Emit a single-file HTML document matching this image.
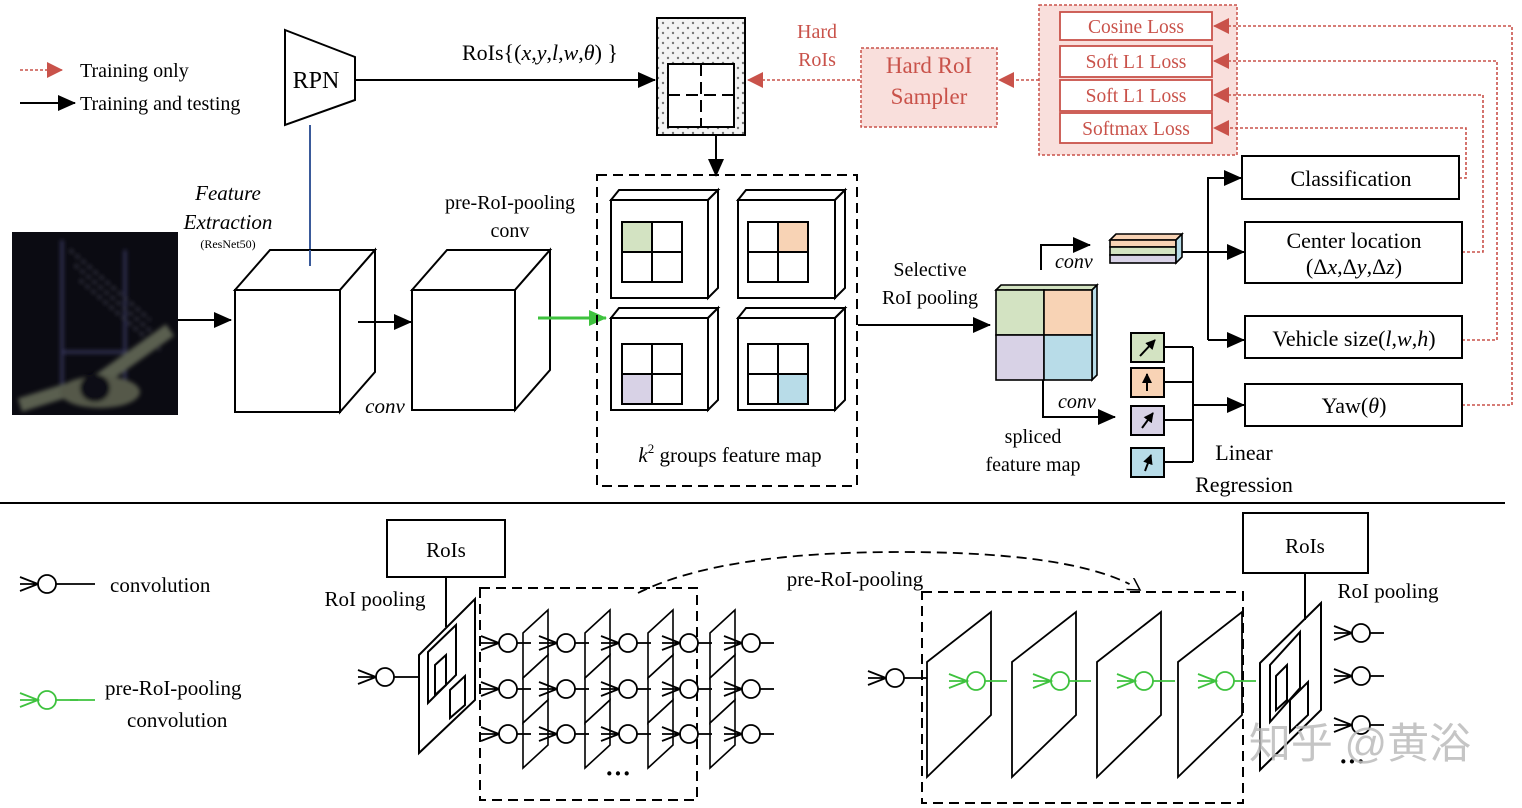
<!DOCTYPE html>
<html><head><meta charset="utf-8"><style>
html,body{margin:0;padding:0;background:#fff;}
svg{display:block;font-family:"Liberation Serif",serif;}
</style></head><body>
<svg width="1522" height="808" viewBox="0 0 1522 808" xmlns="http://www.w3.org/2000/svg">
<defs>
<marker id="ab" markerWidth="10" markerHeight="10" refX="9" refY="5" orient="auto" markerUnits="userSpaceOnUse"><path d="M0,0 L10,5 L0,10 z" fill="#000"/></marker>
<marker id="ab2" markerWidth="18" markerHeight="16" refX="17" refY="8" orient="auto" markerUnits="userSpaceOnUse"><path d="M0,0 L18,8 L0,16 z" fill="#000"/></marker>
<marker id="ag" markerWidth="18" markerHeight="16" refX="17" refY="8" orient="auto" markerUnits="userSpaceOnUse"><path d="M0,0 L18,8 L0,16 z" fill="#3ec23e"/></marker>
<marker id="ar" markerWidth="16" markerHeight="16" refX="15" refY="8" orient="auto" markerUnits="userSpaceOnUse"><path d="M0,0 L16,8 L0,16 z" fill="#c9524a"/></marker>
<marker id="ao" markerWidth="14" markerHeight="14" refX="12" refY="7" orient="auto" markerUnits="userSpaceOnUse"><path d="M0,0 L12,7 L0,14" fill="#fff" stroke="#000" stroke-width="1.5"/></marker>
<g id="cv" fill="none" stroke="#000" stroke-width="1.8"><path d="M-18,-7 L0,0 L-18,7 M-18,0 L0,0"/><circle cx="9" cy="0" r="9" fill="#fff"/><path d="M18,0 L32,0"/></g>
<g id="cg" fill="none" stroke="#3ec23e" stroke-width="1.8"><path d="M-18,-7 L0,0 L-18,7 M-18,0 L0,0"/><circle cx="9" cy="0" r="9"/><path d="M18,0 L40,0"/></g>
<g id="pp" fill="#fff" stroke="#000" stroke-width="1.6"><polygon points="0,23 25,0 25,45 0,68"/></g>
<g id="bp" fill="none" stroke="#000" stroke-width="1.8"><polygon points="0,62 64,12 64,115 0,177" fill="#fff"/></g>
<filter id="blur"><feGaussianBlur stdDeviation="2"/></filter>
</defs>

<!-- legend top -->
<line x1="20" y1="70" x2="62" y2="70" stroke="#c9524a" stroke-width="1.6" stroke-dasharray="3,2" marker-end="url(#ar)"/>
<text x="80" y="77" font-size="20">Training only</text>
<line x1="20" y1="103" x2="75" y2="103" stroke="#000" stroke-width="2" marker-end="url(#ab2)"/>
<text x="80" y="110" font-size="20">Training and testing</text>

<!-- RPN -->
<polygon points="285,30 355,57 355,100 285,125" fill="#fff" stroke="#000" stroke-width="2"/>
<text x="316" y="88" font-size="24" text-anchor="middle">RPN</text>
<line x1="310" y1="125" x2="310" y2="266" stroke="#3a5a9a" stroke-width="2"/>
<line x1="355" y1="80" x2="655" y2="80" stroke="#000" stroke-width="2" marker-end="url(#ab2)"/>
<text x="462" y="60" font-size="22">RoIs{(<tspan font-style="italic">x</tspan>,<tspan font-style="italic">y</tspan>,<tspan font-style="italic">l</tspan>,<tspan font-style="italic">w</tspan>,<tspan font-style="italic">θ</tspan>) }</text>

<defs><pattern id="dots" width="10" height="10" patternUnits="userSpaceOnUse"><rect width="10" height="10" fill="#f4f4f4"/><circle cx="3" cy="3" r="1.2" fill="#777"/><circle cx="8" cy="8" r="1.2" fill="#777"/></pattern></defs>
<rect x="657" y="18" width="88" height="117" fill="url(#dots)" stroke="#000" stroke-width="2"/>
<rect x="668" y="64" width="66" height="63" fill="#fff" stroke="#000" stroke-width="2"/>
<path d="M701,64 V127 M668,95 H734" stroke="#000" stroke-width="2" stroke-dasharray="12,6"/>
<line x1="716" y1="135" x2="716" y2="176" stroke="#000" stroke-width="2" marker-end="url(#ab2)"/>

<text x="817" y="38" font-size="20" fill="#c9524a" text-anchor="middle">Hard</text>
<text x="817" y="66" font-size="20" fill="#c9524a" text-anchor="middle">RoIs</text>
<line x1="860" y1="80" x2="748" y2="80" stroke="#c9524a" stroke-width="1.6" stroke-dasharray="3,2" marker-end="url(#ar)"/>
<rect x="861" y="48" width="136" height="79" fill="#f9dfdc" stroke="#c9524a" stroke-width="1.5" stroke-dasharray="3,2"/>
<text x="929" y="73" font-size="23" fill="#c9524a" text-anchor="middle">Hard RoI</text>
<text x="929" y="104" font-size="23" fill="#c9524a" text-anchor="middle">Sampler</text>
<line x1="1039" y1="80" x2="999" y2="80" stroke="#c9524a" stroke-width="1.6" stroke-dasharray="3,2" marker-end="url(#ar)"/>

<rect x="1039" y="5" width="198" height="150" fill="#f9dfdc" stroke="#c9524a" stroke-width="1.5" stroke-dasharray="3,2"/>
<g fill="#fff" stroke="#c9524a" stroke-width="1.8">
<rect x="1060" y="12" width="152" height="28"/>
<rect x="1060" y="46" width="152" height="31"/>
<rect x="1060" y="80" width="152" height="31"/>
<rect x="1060" y="113" width="152" height="30"/>
</g>
<g font-size="19.5" fill="#c9524a" text-anchor="middle">
<text x="1136" y="33">Cosine Loss</text>
<text x="1136" y="68">Soft L1 Loss</text>
<text x="1136" y="102">Soft L1 Loss</text>
<text x="1136" y="135">Softmax Loss</text>
</g>
<g fill="none" stroke="#c9524a" stroke-width="1.6" stroke-dasharray="3,2">
<path d="M1462,405 H1512 V26 H1214" marker-end="url(#ar)"/>
<path d="M1462,340 H1497 V61 H1214" marker-end="url(#ar)"/>
<path d="M1462,252 H1483 V95 H1214" marker-end="url(#ar)"/>
<path d="M1459,178 H1466 V128 H1214" marker-end="url(#ar)"/>
</g>

<g fill="#fff" stroke="#000" stroke-width="2">
<rect x="1242" y="156" width="217" height="43"/>
<rect x="1245" y="222" width="217" height="61"/>
<rect x="1245" y="316" width="217" height="42"/>
<rect x="1245" y="384" width="217" height="42"/>
</g>
<g font-size="22" text-anchor="middle">
<text x="1351" y="186">Classification</text>
<text x="1354" y="248">Center location</text>
<text x="1354" y="274">(Δ<tspan font-style="italic">x</tspan>,Δ<tspan font-style="italic">y</tspan>,Δ<tspan font-style="italic">z</tspan>)</text>
<text x="1354" y="346">Vehicle size(<tspan font-style="italic">l</tspan>,<tspan font-style="italic">w</tspan>,<tspan font-style="italic">h</tspan>)</text>
<text x="1354" y="413">Yaw(<tspan font-style="italic">θ</tspan>)</text>
</g>
<g fill="none" stroke="#000" stroke-width="2">
<path d="M1208,340 V178 H1241" marker-end="url(#ab2)"/>
<path d="M1180,252 H1244" marker-end="url(#ab2)"/>
<path d="M1208,340 H1244" marker-end="url(#ab2)"/>
<path d="M1041,270 V245 H1090" marker-end="url(#ab2)"/>
<path d="M1043,380 V417 H1115" marker-end="url(#ab2)"/>
<path d="M1164,347 H1193 M1164,382 H1193 M1164,420 H1193 M1164,462 H1193 M1193,347 V462"/>
<path d="M1193,405 H1244" marker-end="url(#ab2)"/>
</g>

<g stroke="#000" stroke-width="1.6">
<polygon points="1110,240 1116,234 1182,234 1176,240" fill="#f8d3b5"/>
<rect x="1110" y="240" width="66" height="7" fill="#f8d3b5"/>
<rect x="1110" y="247" width="66" height="8" fill="#d3e3c2"/>
<rect x="1110" y="255" width="66" height="8" fill="#d8d2e6"/>
<polygon points="1176,240 1182,234 1182,257 1176,263" fill="#b8dce8"/>
</g>
<text x="1055" y="268" font-size="20" font-style="italic">conv</text>

<text x="930" y="276" font-size="20" text-anchor="middle">Selective</text>
<text x="930" y="304" font-size="20" text-anchor="middle">RoI pooling</text>
<line x1="858" y1="325" x2="990" y2="325" stroke="#000" stroke-width="2" marker-end="url(#ab2)"/>

<g stroke="#000" stroke-width="1.6">
<polygon points="996,290 1001,285 1097,285 1092,290" fill="#d3e3c2"/>
<polygon points="1092,290 1097,285 1097,375 1092,380" fill="#b8dce8"/>
<rect x="996" y="290" width="48" height="45" fill="#d3e3c2"/>
<rect x="1044" y="290" width="48" height="45" fill="#f8d3b5"/>
<rect x="996" y="335" width="48" height="45" fill="#d8d2e6"/>
<rect x="1044" y="335" width="48" height="45" fill="#b8dce8"/>
</g>
<text x="1058" y="408" font-size="20" font-style="italic">conv</text>
<text x="1033" y="443" font-size="20" text-anchor="middle">spliced</text>
<text x="1033" y="471" font-size="20" text-anchor="middle">feature map</text>

<g stroke="#000" stroke-width="2">
<rect x="1131" y="333" width="33" height="29" fill="#d3e3c2"/>
<rect x="1131" y="368" width="33" height="29" fill="#f8d3b5"/>
<rect x="1131" y="406" width="33" height="29" fill="#d8d2e6"/>
<rect x="1131" y="448" width="33" height="29" fill="#b8dce8"/>
</g>
<g stroke="#000" stroke-width="2" fill="none" marker-end="url(#ab)">
<line x1="1140" y1="356" x2="1155" y2="340"/>
<line x1="1147" y1="391" x2="1147" y2="374"/>
<line x1="1142" y1="428" x2="1153" y2="413"/>
<line x1="1145" y1="471" x2="1151" y2="455"/>
</g>
<text x="1244" y="460" font-size="22" text-anchor="middle">Linear</text>
<text x="1244" y="492" font-size="22" text-anchor="middle">Regression</text>

<!-- input image -->
<rect x="12" y="232" width="166" height="183" fill="#0b0b12"/>
<g filter="url(#blur)" fill="none">
<path d="M62,240 V352 H125 M62,352 V390 M125,250 V400" stroke="#34365a" stroke-width="3"/>
<path d="M70,250 L150,320 M75,265 L155,335 M80,280 L160,350" stroke="#3a3a4a" stroke-width="3" stroke-dasharray="4,4"/>
<path d="M20,405 L100,380 L170,330" stroke="#5a5f50" stroke-width="14"/>
<ellipse cx="100" cy="392" rx="40" ry="16" fill="#55584a"/>
<ellipse cx="95" cy="388" rx="15" ry="14" fill="#0b0b12"/>
</g>
<line x1="178" y1="320" x2="231" y2="320" stroke="#000" stroke-width="2" marker-end="url(#ab2)"/>

<g fill="#fff" stroke="#000" stroke-width="2">
<polygon points="235,290 270,250 375,250 340,290"/>
<polygon points="340,290 375,250 375,372 340,412"/>
<rect x="235" y="290" width="105" height="122"/>
<polygon points="412,290 447,250 550,250 515,290"/>
<polygon points="515,290 550,250 550,370 515,410"/>
<rect x="412" y="290" width="103" height="120"/>
</g>
<line x1="310" y1="250" x2="310" y2="266" stroke="#3a5a9a" stroke-width="2"/>
<text x="228" y="200" font-size="21" font-style="italic" text-anchor="middle">Feature</text>
<text x="228" y="229" font-size="21" font-style="italic" text-anchor="middle">Extraction</text>
<text x="228" y="248" font-size="12" text-anchor="middle">(ResNet50)</text>
<line x1="358" y1="322" x2="411" y2="322" stroke="#000" stroke-width="2" marker-end="url(#ab2)"/>
<text x="385" y="413" font-size="21" font-style="italic" text-anchor="middle">conv</text>
<text x="510" y="209" font-size="20" text-anchor="middle">pre-RoI-pooling</text>
<text x="510" y="237" font-size="20" text-anchor="middle">conv</text>
<line x1="538" y1="318" x2="606" y2="318" stroke="#3ec23e" stroke-width="3" marker-end="url(#ag)"/>

<rect x="597" y="175" width="260" height="311" fill="none" stroke="#000" stroke-width="2" stroke-dasharray="10,6"/>
<g fill="#fff" stroke="#000" stroke-width="2">
<g><polygon points="611,200 619,190 718,190 708,200"/><polygon points="708,200 718,190 718,288 708,298"/><rect x="611" y="200" width="97" height="98"/></g>
<g><polygon points="738,200 746,190 845,190 835,200"/><polygon points="835,200 845,190 845,288 835,298"/><rect x="738" y="200" width="97" height="98"/></g>
<g><polygon points="611,318 619,308 718,308 708,318"/><polygon points="708,318 718,308 718,400 708,410"/><rect x="611" y="318" width="97" height="92"/></g>
<g><polygon points="738,318 746,308 845,308 835,318"/><polygon points="835,318 845,308 845,400 835,410"/><rect x="738" y="318" width="97" height="92"/></g>
</g>
<rect x="622" y="222" width="30" height="30" fill="#d3e3c2"/>
<rect x="778" y="222" width="30" height="30" fill="#f8d3b5"/>
<rect x="622" y="374" width="30" height="30" fill="#d8d2e6"/>
<rect x="778" y="374" width="30" height="30" fill="#b8dce8"/>
<g fill="none" stroke="#000" stroke-width="2">
<rect x="622" y="222" width="60" height="60"/><path d="M652,222 V282 M622,252 H682"/>
<rect x="748" y="222" width="60" height="60"/><path d="M778,222 V282 M748,252 H808"/>
<rect x="622" y="344" width="60" height="60"/><path d="M652,344 V404 M622,374 H682"/>
<rect x="748" y="344" width="60" height="60"/><path d="M778,344 V404 M748,374 H808"/>
</g>
<text x="730" y="462" font-size="21" text-anchor="middle"><tspan font-style="italic">k</tspan><tspan font-size="13" dy="-9">2</tspan><tspan dy="9"> groups feature map</tspan></text>

<line x1="0" y1="503" x2="1505" y2="503" stroke="#000" stroke-width="2"/>

<use href="#cv" x="38" y="584"/>
<line x1="70" y1="584" x2="95" y2="584" stroke="#000" stroke-width="1.8"/>
<text x="110" y="592" font-size="21">convolution</text>
<use href="#cg" x="38" y="700"/>
<line x1="70" y1="700" x2="95" y2="700" stroke="#3ec23e" stroke-width="1.8"/>
<text x="105" y="695" font-size="21">pre-RoI-pooling</text>
<text x="127" y="727" font-size="21">convolution</text>

<rect x="387" y="520" width="118" height="57" fill="#fff" stroke="#000" stroke-width="2"/>
<text x="446" y="557" font-size="21" text-anchor="middle">RoIs</text>
<text x="375" y="606" font-size="21" text-anchor="middle">RoI pooling</text>
<use href="#cv" x="376" y="677"/>
<line x1="408" y1="677" x2="420" y2="677" stroke="#000" stroke-width="1.8"/>
<polygon points="419,655 475,599 475,700 419,753" fill="#fff" stroke="#000" stroke-width="2"/>
<line x1="446" y1="577" x2="446" y2="627" stroke="#000" stroke-width="2"/>
<g fill="none" stroke="#000" stroke-width="2">
<polygon points="428,652 456,625 456,675 428,703"/>
<polygon points="435,665 446,655 446,685 435,695"/>
<polygon points="450,690 465,676 465,705 450,718"/>
</g>
<rect x="480" y="588" width="217" height="212" fill="none" stroke="#000" stroke-width="2" stroke-dasharray="10,6"/>
<g>
<use href="#pp" x="523" y="610"/><use href="#pp" x="523" y="655"/><use href="#pp" x="523" y="700"/>
<use href="#pp" x="585" y="610"/><use href="#pp" x="585" y="655"/><use href="#pp" x="585" y="700"/>
<use href="#pp" x="648" y="610"/><use href="#pp" x="648" y="655"/><use href="#pp" x="648" y="700"/>
<use href="#pp" x="710" y="610"/><use href="#pp" x="710" y="655"/><use href="#pp" x="710" y="700"/>
</g>
<g>
<use href="#cv" x="499" y="643"/><use href="#cv" x="557" y="643"/><use href="#cv" x="619" y="643"/><use href="#cv" x="680" y="643"/><use href="#cv" x="742" y="643"/>
<use href="#cv" x="499" y="689"/><use href="#cv" x="557" y="689"/><use href="#cv" x="619" y="689"/><use href="#cv" x="680" y="689"/><use href="#cv" x="742" y="689"/>
<use href="#cv" x="499" y="734"/><use href="#cv" x="557" y="734"/><use href="#cv" x="619" y="734"/><use href="#cv" x="680" y="734"/><use href="#cv" x="742" y="734"/>
</g>
<text x="618" y="782" font-size="26" font-weight="bold" text-anchor="middle">···</text>

<path d="M638,593 Q720,552 900,552 Q1080,552 1140,590" fill="none" stroke="#000" stroke-width="1.8" stroke-dasharray="10,6" marker-end="url(#ao)"/>
<text x="855" y="586" font-size="21" text-anchor="middle">pre-RoI-pooling</text>

<rect x="922" y="592" width="321" height="211" fill="none" stroke="#000" stroke-width="2" stroke-dasharray="10,6"/>
<use href="#cv" x="886" y="678"/>
<line x1="918" y1="678" x2="928" y2="678" stroke="#000" stroke-width="1.8"/>
<use href="#bp" x="927" y="600"/><use href="#bp" x="1012" y="600"/><use href="#bp" x="1097" y="600"/><use href="#bp" x="1178" y="600"/>
<use href="#cg" x="967" y="681"/><use href="#cg" x="1051" y="681"/><use href="#cg" x="1135" y="681"/><use href="#cg" x="1216" y="681"/>
<rect x="1243" y="513" width="125" height="60" fill="#fff" stroke="#000" stroke-width="2"/>
<text x="1305" y="553" font-size="21" text-anchor="middle">RoIs</text>
<text x="1388" y="598" font-size="21" text-anchor="middle">RoI pooling</text>
<polygon points="1260,663 1321,603 1321,710 1260,770" fill="#fff" stroke="#000" stroke-width="2"/>
<line x1="1305" y1="573" x2="1305" y2="620" stroke="#000" stroke-width="2"/>
<g fill="none" stroke="#000" stroke-width="2">
<polygon points="1270,665 1300,632 1300,688 1270,722"/>
<polygon points="1276,676 1287,665 1287,700 1276,710"/>
<polygon points="1290,700 1308,682 1308,715 1290,732"/>
</g>
<use href="#cv" x="1352" y="633"/><use href="#cv" x="1352" y="676"/><use href="#cv" x="1352" y="725"/>
<text x="1352" y="770" font-size="26" font-weight="bold" text-anchor="middle">···</text>
<text x="1360" y="758" font-size="42" fill="#bbbbbb" fill-opacity="0.85" text-anchor="middle" font-family="'Liberation Sans','Noto Sans CJK SC',sans-serif">知乎 @黄浴</text>
</svg>
</body></html>
